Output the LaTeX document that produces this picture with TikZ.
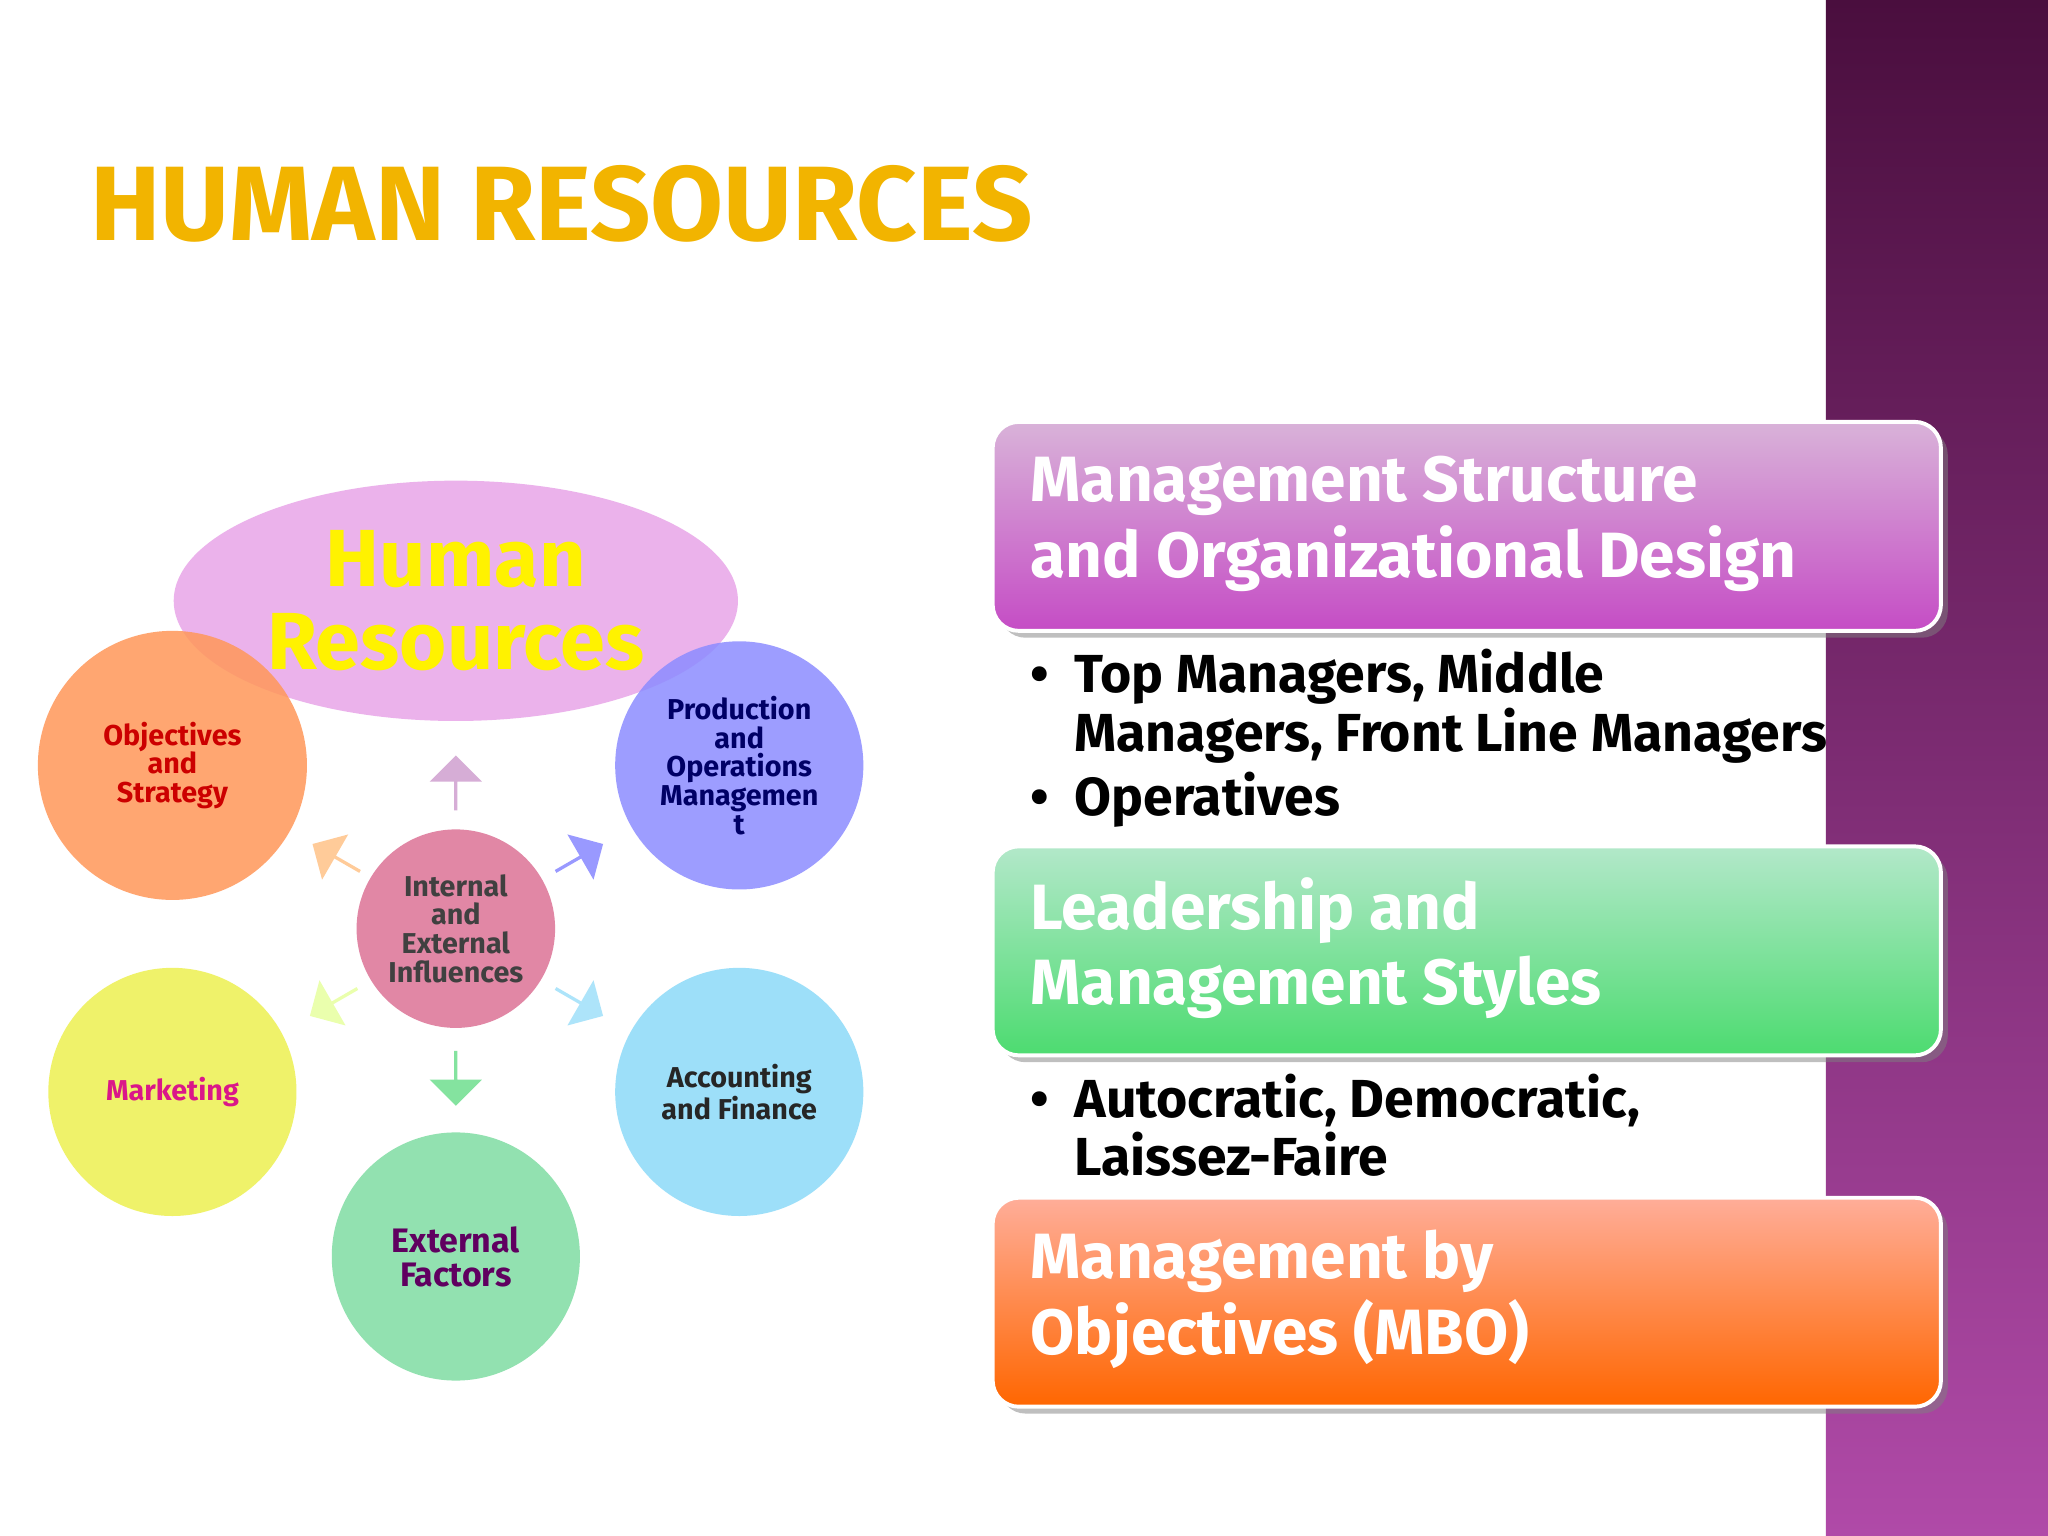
\documentclass[tikz,border=0pt]{standalone}
\usepackage{fontspec}
\setmainfont{Fira Sans}
\usetikzlibrary{shapes.arrows,shapes.geometric,shadows}
\definecolor{band1}{HTML}{4A0E3E}
\definecolor{band2}{HTML}{B04AA8}
\definecolor{gold}{HTML}{F2B400}
\tikzset{
 circ/.style={circle,minimum size=#1,inner sep=0pt,align=center,font=\bfseries\fontsize{11}{11}\selectfont,opacity=0.85,text opacity=1},
 arr/.style={single arrow,single arrow head extend=3pt,single arrow head indent=0pt,minimum height=21pt,minimum width=20pt,inner sep=0pt,opacity=0.8},
 box/.style={rounded corners=10pt,draw=white,line width=1.5pt,minimum width=363pt,minimum height=80pt,drop shadow},
 boxtxt/.style={anchor=west,text=white,align=left,font=\bfseries\fontsize{24.5}{29}\selectfont},
 bul/.style={anchor=north west,align=left,font=\bfseries\fontsize{20.5}{22.5}\selectfont},
}
\begin{document}
\begin{tikzpicture}[x=0.5pt,y=-0.5pt]
\useasboundingbox (0,0) rectangle (1568,1176);
\fill[white] (0,0) rectangle (1568,1176);
\shade[top color=band1,bottom color=band2] (1398,0) rectangle (1568,1176);
\node[anchor=west,text=gold,font=\bfseries\fontsize{40.5}{44}\selectfont] (title) at (62,156) {HUMAN RESOURCES};
% diagram
\node[ellipse,fill=violet!50!magenta!40,minimum width=216pt,minimum height=92pt,opacity=0.75] (hr) at (349,460) {};
\node[circ=103pt,fill=orange!75!red!65,text=red!80!black] (obj) at (132,586) {Objectives\\and\\Strategy};
\node[circ=95pt,fill=blue!45!white,text=blue!40!black] (prod) at (566,586) {Production\\and\\Operations\\Managemen\\t};
\node[text=yellow,align=center,font=\bfseries\fontsize{31}{32}\selectfont] (hrt) at (349,460) {Human\\Resources};
\node[circ=95pt,fill=yellow!60!lime!70,text=magenta!80!violet] (mkt) at (132,836) {Marketing};
\node[circ=95pt,fill=cyan!45,text=black!85] (acc) at (566,836) {Accounting\\and Finance};
\node[circ=95pt,fill=green!45!teal!50,text=violet!75!black,font=\bfseries\fontsize{13}{13}\selectfont] (ext) at (349,962) {External\\Factors};
\node[circ=76pt,fill=purple!55,text=black!75] (ctr) at (349,711) {Internal\\and\\External\\Influences};
\node[arr,fill=violet!40,rotate=90] (a1) at (349,600) {};
\node[arr,fill=orange!50,rotate=150] (a2) at (258,657) {};
\node[arr,fill=blue!50,rotate=30] (a3) at (443,657) {};
\node[arr,fill=lime!40,rotate=210] (a4) at (256,767) {};
\node[arr,fill=cyan!40,rotate=-30] (a5) at (443,767) {};
\node[arr,fill=green!55!teal!60,rotate=-90] (a6) at (349,825) {};
% right boxes
\node[box,top color=violet!30,bottom color=violet!65!magenta!70] (b1) at (1123,403) {};
\node[boxtxt] at (782,401) {Management Structure\\and Organizational Design};
\node[bul] (l1) at (782,490) {•\ \ Top Managers, Middle\\\phantom{•\ \ }Managers, Front Line Managers\\[2pt]•\ \ Operatives};
\node[box,top color=green!40!teal!30,bottom color=green!60!teal!70] (b2) at (1123,728) {};
\node[boxtxt] at (782,726) {Leadership and\\Management Styles};
\node[bul] (l2) at (782,815) {•\ \ Autocratic, Democratic,\\\phantom{•\ \ }Laissez-Faire};
\node[box,top color=orange!40!red!40,bottom color=orange!80!red] (b3) at (1123,997) {};
\node[boxtxt] at (782,995) {Management by\\Objectives (MBO)};
\end{tikzpicture}
\end{document}
